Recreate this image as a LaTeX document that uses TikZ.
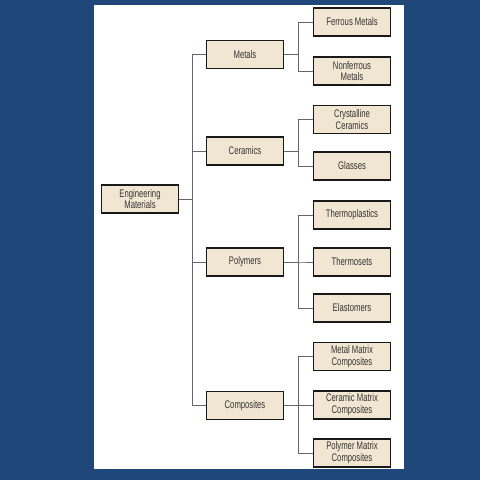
\documentclass[tikz,border=0pt]{standalone}
\usepackage{fontspec}
\setmainfont{Liberation Sans}[FakeStretch=0.70]
\definecolor{bgblue}{HTML}{1F477A}
\definecolor{boxfill}{HTML}{F1E6D2}
\definecolor{txt}{HTML}{333333}
\definecolor{ln}{HTML}{666666}
\begin{document}
\begin{tikzpicture}[x=1pt,y=-1pt,
  box/.style={draw=black!90,line width=1.8pt,fill=boxfill,minimum width=77pt,minimum height=28pt,
    inner sep=1pt,align=center,font=\fontsize{11}{11.8}\selectfont,text=txt},
  conn/.style={draw=ln,line width=0.9pt}]
\useasboundingbox (0,0) rectangle (480,480);
\fill[bgblue] (0,0) rectangle (480,480);
\fill[white] (94,5) rectangle (404,469);
% nodes
\node[box] (em) at (140,199) {Engineering\\Materials};
\node[box] (metals) at (245,54.5) {Metals};
\node[box] (ceramics) at (245,151) {Ceramics};
\node[box] (polymers) at (245,262) {Polymers};
\node[box] (composites) at (245,405.5) {Composites};
\node[box] (ferrous) at (352,22) {Ferrous Metals};
\node[box] (nonferrous) at (352,71) {Nonferrous\\Metals};
\node[box] (crystalline) at (352,119.5) {Crystalline\\Ceramics};
\node[box] (glasses) at (352,166) {Glasses};
\node[box] (thermoplastics) at (352,215) {Thermoplastics};
\node[box] (thermosets) at (352,262) {Thermosets};
\node[box] (elastomers) at (352,308) {Elastomers};
\node[box] (mmc) at (352,356.5) {Metal Matrix\\Composites};
\node[box] (cmc) at (352,405) {Ceramic Matrix\\Composites};
\node[box] (pmc) at (352,453) {Polymer Matrix\\Composites};
% connectors
\foreach \c in {metals,ceramics,polymers,composites}
  \draw[conn] (em.east) -- ++(13,0) |- (\c.west);
\foreach \p/\c in {metals/ferrous,metals/nonferrous,ceramics/crystalline,ceramics/glasses,
  polymers/thermoplastics,polymers/thermosets,polymers/elastomers,
  composites/mmc,composites/cmc,composites/pmc}
  \draw[conn] (\p.east) -- ++(14,0) |- (\c.west);
\end{tikzpicture}
\end{document}
